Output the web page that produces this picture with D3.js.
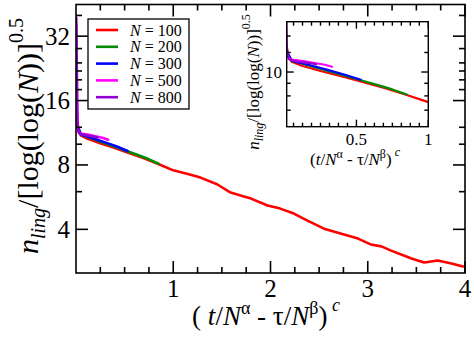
<!DOCTYPE html>
<html><head><meta charset="utf-8">
<script src="https://cdn.jsdelivr.net/npm/d3@7"></script>
</head>
<body style="margin:0">
<svg id="c" width="474" height="343" style="font-family:'Times New Roman'"></svg>
<script>
// ---------- DATA ----------
const seriesNames = ["100", "200", "300", "500", "800"];
const seriesColors = ["#ff0000", "#008b00", "#0000ff", "#ff00ff", "#9400d3"];

const n100X = [0.015, 0.025, 0.05, 0.12, 0.25, 0.4, 0.53, 0.7, 0.84, 1.0, 1.15, 1.28, 1.45, 1.59, 1.7, 1.8, 1.97, 2.1, 2.24, 2.38, 2.55, 2.72, 2.9, 3.03, 3.14, 3.24, 3.45, 3.58, 3.72, 3.86, 3.98];
const n100Y = [12.8, 11.6, 11.0, 10.6, 10.1, 9.6, 9.15, 8.6, 8.1, 7.55, 7.25, 6.98, 6.5, 5.94, 5.75, 5.57, 5.17, 5.0, 4.74, 4.39, 4.03, 3.82, 3.62, 3.40, 3.33, 3.18, 2.92, 2.80, 2.86, 2.77, 2.68];
const n200X = [0.02, 0.05, 0.15, 0.3, 0.45, 0.55, 0.65, 0.75, 0.85];
const n200Y = [12.0, 11.1, 10.7, 10.1, 9.55, 9.2, 8.85, 8.5, 8.1];
const n300X = [0.02, 0.05, 0.15, 0.3, 0.42, 0.53];
const n300Y = [12.0, 11.1, 10.75, 10.2, 9.75, 9.3];
const n500X = [0.004, 0.006, 0.009, 0.012, 0.016, 0.022, 0.035, 0.06, 0.12, 0.2, 0.28, 0.33];
const n500Y = [36, 28, 20, 15, 12.5, 11.6, 11.3, 11.2, 11.1, 10.9, 10.7, 10.5];
const n800X = [0.003, 0.005, 0.008, 0.011, 0.014, 0.02, 0.03, 0.05, 0.1, 0.16, 0.22];
const n800Y = [39, 32, 22, 16, 13, 11.8, 11.3, 11.15, 11.0, 10.9, 10.75];

const mainXTicks = [1, 2, 3, 4];
const mainYTicks = [4, 8, 16, 32];
const mainYMinor = [6, 10, 12, 18, 20, 22, 24, 28, 40];
const insetXTicks = [0.5, 1];
const insetYTicks = [10];
const insetYMinor = [7, 8, 9, 12, 14];

// ---------- BUILD ----------
const xs = [n100X, n200X, n300X, n500X, n800X];
const ys = [n100Y, n200Y, n300Y, n500Y, n800Y];
const series = seriesNames.map((n, i) => ({
  name: n, color: seriesColors[i],
  pts: xs[i].map((x, j) => ({x: x, y: ys[i][j]}))
}));

const svg = d3.select("#c");

function drawFrame(g, x, y, xMajor, xMinor, yMajor, yMinor, majLen, minLen, lw) {
  const [x0, x1] = x.range(), [y0, y1] = y.range();
  const ax = g.append("g").attr("stroke", "#000").attr("stroke-width", lw).attr("fill", "none");
  ax.append("rect").attr("x", x0).attr("y", y1).attr("width", x1 - x0).attr("height", y0 - y1);
  const tick = (arr, len, horiz) => arr.forEach(v => {
    if (horiz) {
      const px = x(v);
      ax.append("line").attr("x1", px).attr("x2", px).attr("y1", y0).attr("y2", y0 - len);
      ax.append("line").attr("x1", px).attr("x2", px).attr("y1", y1).attr("y2", y1 + len);
    } else {
      const py = y(v);
      ax.append("line").attr("x1", x0).attr("x2", x0 + len).attr("y1", py).attr("y2", py);
      ax.append("line").attr("x1", x1).attr("x2", x1 - len).attr("y1", py).attr("y2", py);
    }
  });
  tick(xMajor, majLen, true); tick(xMinor, minLen, true);
  tick(yMajor, majLen, false); tick(yMinor, minLen, false);
}

function drawSeries(g, x, y, clipId, lw) {
  const line = d3.line().x(d => x(d.x)).y(d => y(d.y));
  const gg = g.append("g").attr("clip-path", `url(#${clipId})`);
  series.forEach(s => {
    gg.append("path").datum(s.pts).attr("d", line)
      .attr("fill", "none").attr("stroke", s.color).attr("stroke-width", lw)
      .attr("stroke-linejoin", "round").attr("stroke-linecap", "round");
  });
}

function addClip(id, x, y) {
  const [x0, x1] = x.range(), [y0, y1] = y.range();
  svg.append("clipPath").attr("id", id).append("rect")
    .attr("x", x0).attr("y", y1).attr("width", x1 - x0).attr("height", y0 - y1);
}

function txt(g, fs) {
  return g.append("text").attr("style", "font-family:'Times New Roman';font-size:" + fs + "px");
}

function labelText(sel, parts) {
  parts.forEach(p => {
    const t = sel.append("tspan").text(p.t);
    let st = "font-family:'Times New Roman';";
    if (p.it) st += "font-style:italic;";
    if (p.fs) st += "font-size:" + p.fs + "px;";
    t.attr("style", st);
    if (p.dy) t.attr("dy", p.dy);
  });
}

// ---- main ----
const X = d3.scaleLinear().domain([0, 4]).range([76, 465]);
const Y = d3.scaleLog().domain([2.5, 45]).range([273, 4.5]);
addClip("clipMain", X, Y);
const xMinorMain = d3.range(0.25, 4, 0.25).filter(v => Math.abs(v - Math.round(v)) > 1e-6);
drawSeries(svg, X, Y, "clipMain", 2.6);
drawFrame(svg, X, Y, mainXTicks, xMinorMain, mainYTicks, mainYMinor, 12, 6, 1.6);

mainXTicks.forEach(d => txt(svg, 25).attr("x", X(d)).attr("y", 297).attr("text-anchor", "middle").text(String(d)));
mainYTicks.forEach(d => txt(svg, 25).attr("x", 70).attr("y", Y(d) + 8.5).attr("text-anchor", "end").text(String(d)));

// legend
const lg = svg.append("g");
lg.append("rect").attr("x", 88).attr("y", 19).attr("width", 101).attr("height", 90)
  .attr("fill", "#fff").attr("stroke", "#000").attr("stroke-width", 1.3);
series.forEach((s, i) => {
  const cy = 30 + i * 16.8;
  lg.append("line").attr("x1", 96).attr("x2", 118).attr("y1", cy).attr("y2", cy)
    .attr("stroke", s.color).attr("stroke-width", 2.6);
  const t = txt(lg, 16).attr("x", 130).attr("y", cy + 5.5);
  labelText(t, [{t: "N", it: true}, {t: " = " + s.name}]);
});

// axis labels main
const xl = txt(svg, 27).attr("x", 266).attr("y", 325).attr("text-anchor", "middle");
labelText(xl, [{t: "( "}, {t: "t", it: true}, {t: "/"}, {t: "N", it: true},
  {t: "α", fs: 18, dy: -11}, {t: " - τ/", dy: 11}, {t: "N", it: true},
  {t: "β", fs: 18, dy: -11}, {t: ")", dy: 11}, {t: " c", it: true, fs: 18, dy: -14}]);

const yl = txt(svg, 30).attr("transform", "translate(38,136) rotate(-90)").attr("text-anchor", "middle");
labelText(yl, [{t: "n", it: true}, {t: "ling", it: true, fs: 20, dy: 7}, {t: "/[log(log(", dy: -7},
  {t: "N", it: true}, {t: "))]"}, {t: "0.5", fs: 20, dy: -15}]);

// ---- inset ----
const IX = d3.scaleLinear().domain([0.015, 1]).range([286.7, 428.3]);
const IY = d3.scaleLog().domain([6, 16]).range([126.7, 21.7]);
svg.append("rect").attr("x", 286.7).attr("y", 21.7).attr("width", 141.6).attr("height", 105).attr("fill", "#fff");
addClip("clipInset", IX, IY);
drawSeries(svg, IX, IY, "clipInset", 2.2);
const ixMinor = d3.range(1, 16).map(i => i * 0.0625).filter(v => Math.abs(v - 0.5) > 1e-6 && v > 0.015);
drawFrame(svg, IX, IY, insetXTicks, ixMinor, insetYTicks, insetYMinor, 7, 4, 1.4);

insetXTicks.forEach(d => txt(svg, 17).attr("x", IX(d)).attr("y", 145).attr("text-anchor", "middle").text(String(d)));
insetYTicks.forEach(d => txt(svg, 17).attr("x", 282).attr("y", IY(d) + 6).attr("text-anchor", "end").text(String(d)));

const ixl = txt(svg, 17).attr("x", 355).attr("y", 165).attr("text-anchor", "middle");
labelText(ixl, [{t: "("}, {t: "t", it: true}, {t: "/"}, {t: "N", it: true},
  {t: "α", fs: 12, dy: -7}, {t: " - τ/", dy: 7}, {t: "N", it: true},
  {t: "β", fs: 12, dy: -7}, {t: ")", dy: 7}, {t: " c", it: true, fs: 12, dy: -9}]);

const iyl = txt(svg, 17).attr("transform", "translate(259,82) rotate(-90)").attr("text-anchor", "middle");
labelText(iyl, [{t: "n", it: true}, {t: "ling", it: true, fs: 12, dy: 4}, {t: "/[log(log(", dy: -4},
  {t: "N", it: true}, {t: "))]"}, {t: "0.5", fs: 12, dy: -9}]);
</script>
</body></html>
